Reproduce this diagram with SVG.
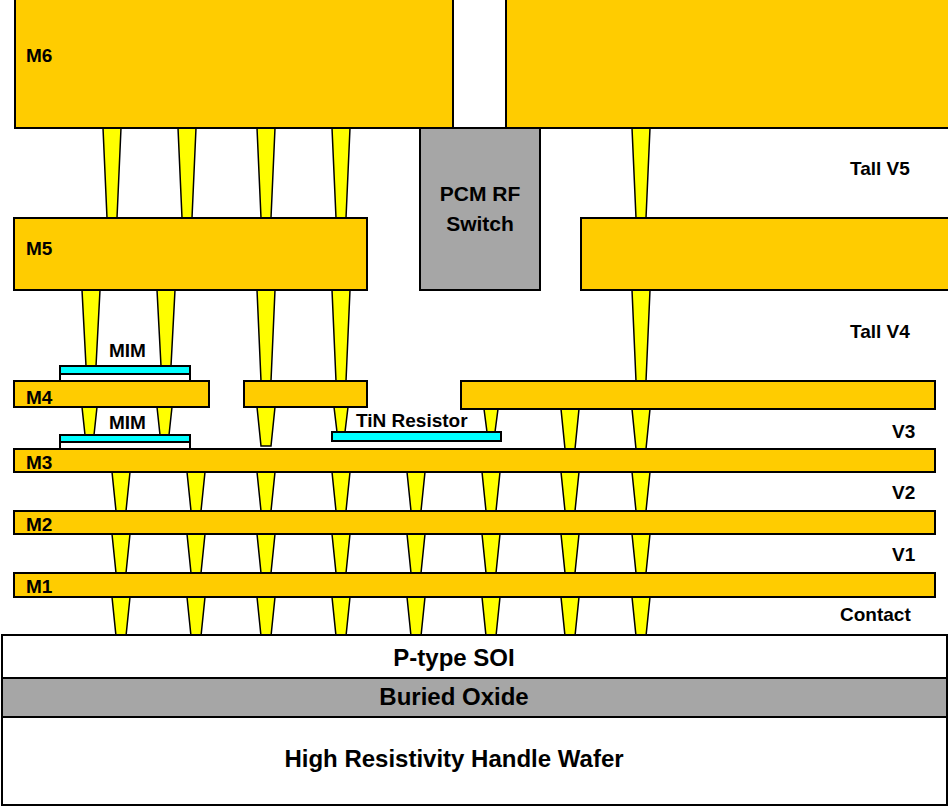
<svg xmlns="http://www.w3.org/2000/svg" width="948" height="807" viewBox="0 0 948 807">
<style>
.m{fill:#FFCC00;stroke:#000;stroke-width:2}
.v{fill:#FFFF00;stroke:#000;stroke-width:1.5}
.c{fill:#00FFFF;stroke:#000;stroke-width:2}
.w{fill:#fff;stroke:#000;stroke-width:2}
.g{fill:#A6A6A6;stroke:#000;stroke-width:2}
text{font-family:"Liberation Sans",Arial,sans-serif;font-weight:bold;font-size:19px;fill:#000}
.t{text-anchor:middle;font-size:24px}
</style>
<rect width="948" height="807" fill="#fff"/>
<g id="vias">
<polygon class="v" points="103,128 121,128 117,218 107,218"/>
<polygon class="v" points="178,128 196,128 192,218 182,218"/>
<polygon class="v" points="257,128 275,128 271,218 261,218"/>
<polygon class="v" points="332,128 350,128 346,218 336,218"/>
<polygon class="v" points="632,128 650,128 646,218 636,218"/>
<polygon class="v" points="82,290 100,290 96,366 86,366"/>
<polygon class="v" points="157,290 175,290 171,366 161,366"/>
<polygon class="v" points="257,290 275,290 271,381 261,381"/>
<polygon class="v" points="332,290 350,290 346,381 336,381"/>
<polygon class="v" points="632,290 650,290 646,381 636,381"/>
<polygon class="v" points="82,407 97,407 94,435 85,435"/>
<polygon class="v" points="157,407 172,407 169,435 160,435"/>
<polygon class="v" points="257,407 275,407 271,446 261,446"/>
<polygon class="v" points="334,407 348,407 345,432 337,432"/>
<polygon class="v" points="484,409 498,409 495,432 487,432"/>
<polygon class="v" points="561,409 579,409 575,449 565,449"/>
<polygon class="v" points="632,409 650,409 646,449 636,449"/>
<g id="v2">
<polygon class="v" points="112,472 130,472 126,511 116,511"/>
<polygon class="v" points="187,472 205,472 201,511 191,511"/>
<polygon class="v" points="257,472 275,472 271,511 261,511"/>
<polygon class="v" points="332,472 350,472 346,511 336,511"/>
<polygon class="v" points="407,472 425,472 421,511 411,511"/>
<polygon class="v" points="482,472 500,472 496,511 486,511"/>
<polygon class="v" points="561,472 579,472 575,511 565,511"/>
<polygon class="v" points="632,472 650,472 646,511 636,511"/>
</g>
<use href="#v2" y="62"/>
<use href="#v2" y="125"/>
</g>
<g id="M6"><rect class="m" x="15" y="-2" width="438" height="130"/><rect class="m" x="506" y="-2" width="443" height="130"/><text x="26" y="62">M6</text></g>
<g id="PCM"><rect class="g" x="420" y="128" width="120" height="162"/><text class="t" x="480" y="201" style="font-size:21px">PCM RF</text><text class="t" x="480" y="231" style="font-size:21px">Switch</text></g>
<g id="M5"><rect class="m" x="14" y="218" width="353" height="72"/><rect class="m" x="581" y="218" width="368" height="72"/><text x="26" y="255">M5</text></g>
<g id="MIM1"><rect class="w" x="60" y="374" width="130" height="8"/><rect class="c" x="60" y="366" width="130" height="8"/><text x="109" y="357">MIM</text></g>
<g id="M4"><rect class="m" x="14" y="381" width="195" height="26"/><rect class="m" x="244" y="381" width="123" height="26"/><rect class="m" x="461" y="381" width="474" height="28"/><text x="26" y="404">M4</text></g>
<g id="MIM2"><rect class="w" x="60" y="442" width="130" height="8"/><rect class="c" x="60" y="435" width="130" height="7"/><text x="109" y="429">MIM</text></g>
<g id="TiN"><rect class="c" x="332" y="432" width="169" height="9"/><text x="356" y="427">TiN Resistor</text></g>
<g id="M3"><rect class="m" x="14" y="449" width="921" height="23"/><text x="26" y="469">M3</text></g>
<g id="M2"><rect class="m" x="14" y="511" width="921" height="23"/><text x="26" y="531">M2</text></g>
<g id="M1"><rect class="m" x="14" y="573" width="921" height="24"/><text x="26" y="593">M1</text></g>
<g id="substrate">
<rect class="w" x="2" y="635" width="945" height="43"/><text class="t" x="454" y="666">P-type SOI</text>
<rect class="g" x="2" y="678" width="945" height="39"/><text class="t" x="454" y="705">Buried Oxide</text>
<rect class="w" x="2" y="717" width="945" height="88"/><text class="t" x="454" y="767">High Resistivity Handle Wafer</text>
</g>
<g id="labels">
<text x="850" y="175">Tall V5</text>
<text x="850" y="338">Tall V4</text>
<text x="892" y="438">V3</text>
<text x="892" y="499">V2</text>
<text x="892" y="561">V1</text>
<text x="840" y="621">Contact</text>
</g>
</svg>
